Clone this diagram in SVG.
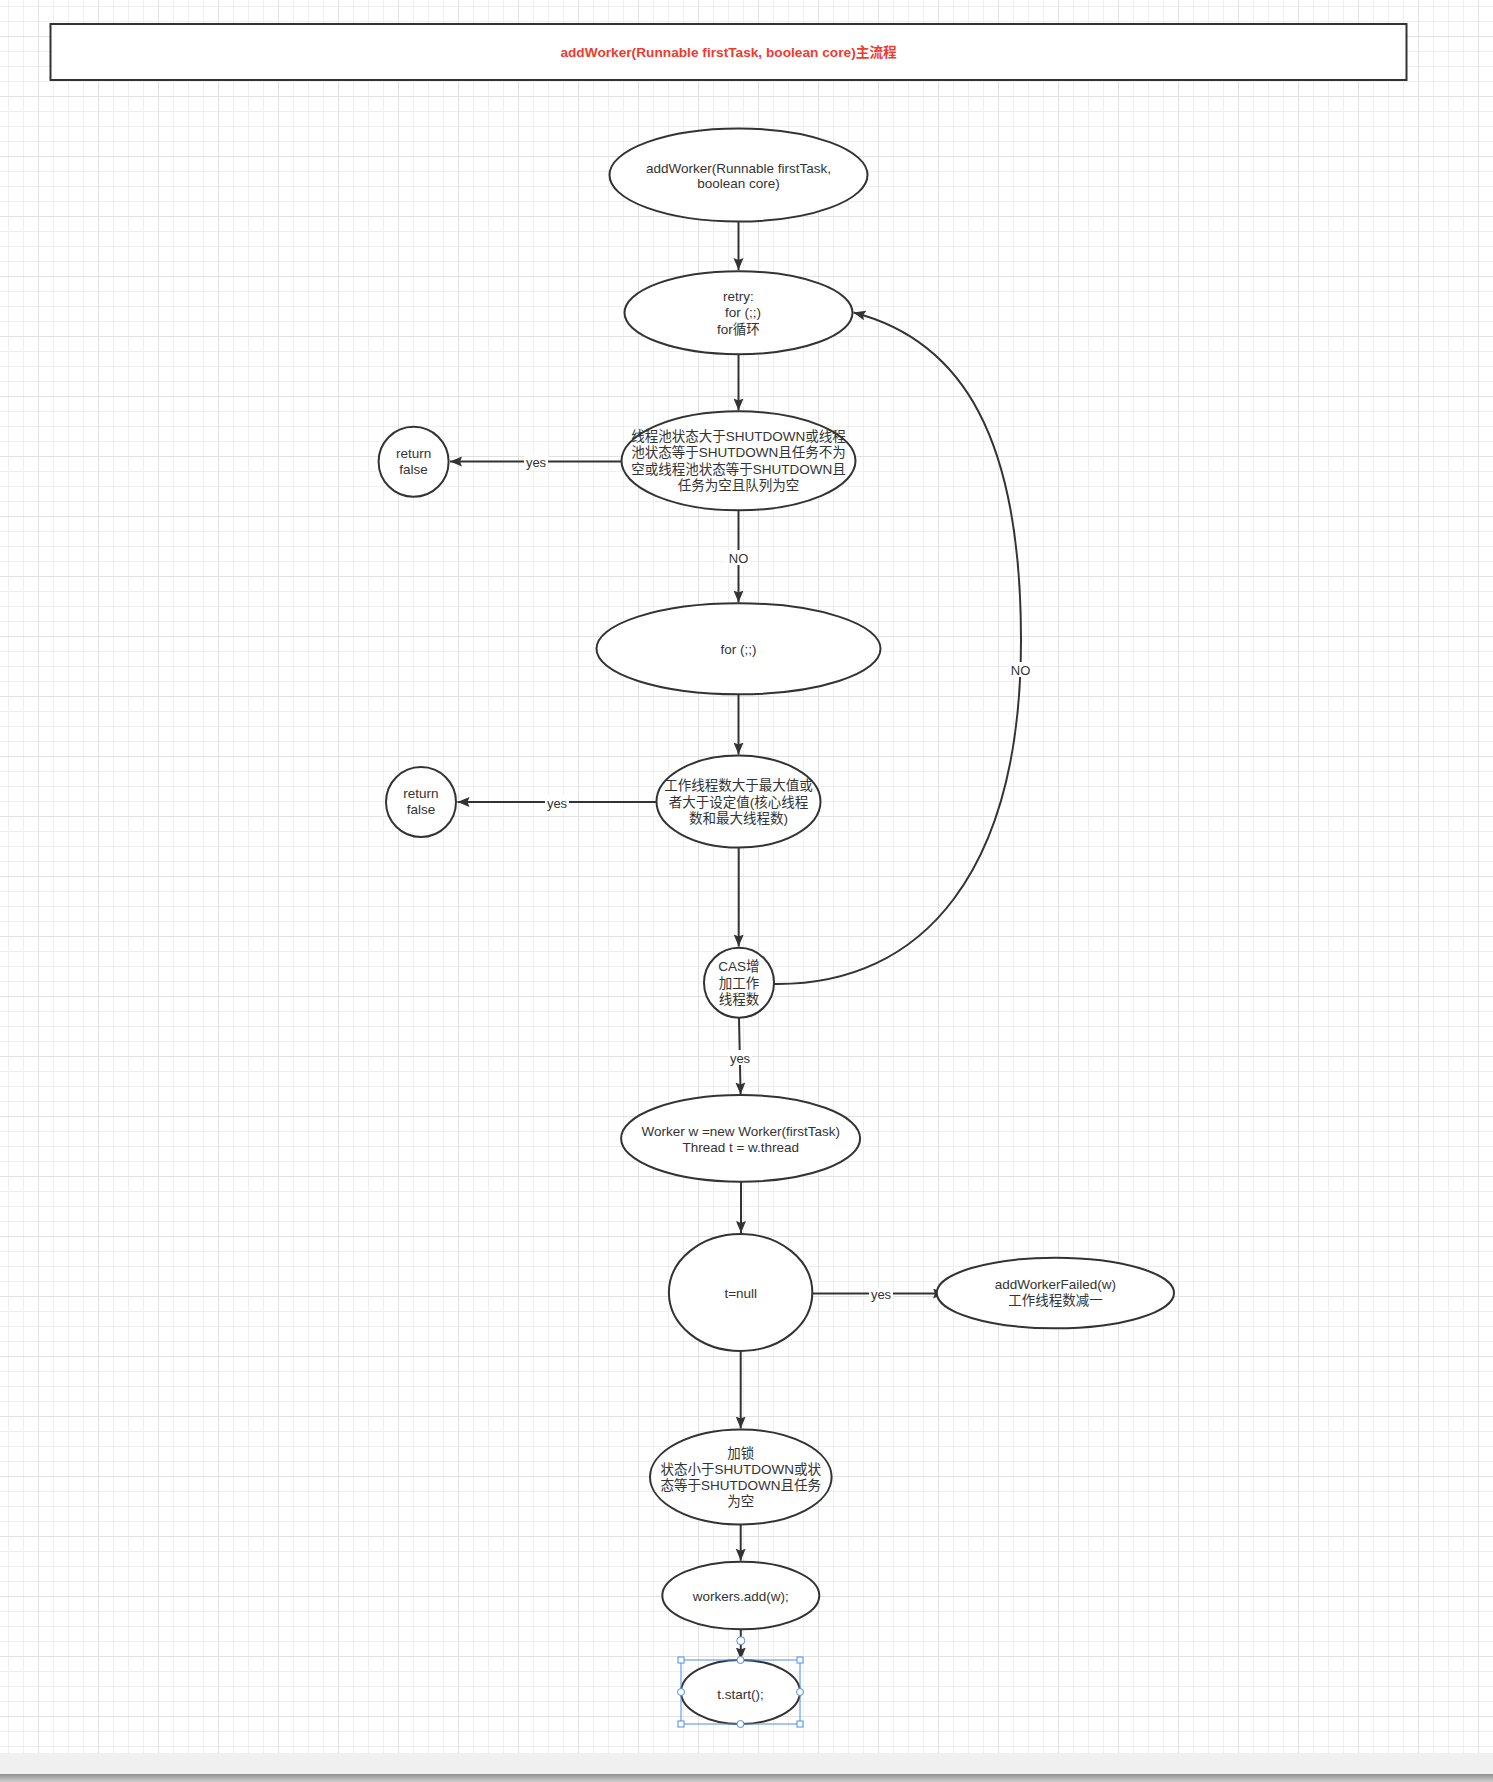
<svg xmlns="http://www.w3.org/2000/svg" width="1493" height="1782" viewBox="0 0 1493 1782">
<style>
.n{fill:#fff;stroke:#333;stroke-width:2}
.t{font-family:"Liberation Sans","Noto Sans CJK SC",sans-serif;font-size:13.5px;fill:#333;text-anchor:middle}
.lb{font-family:"Liberation Sans","Noto Sans CJK SC",sans-serif;font-size:13px;fill:#333;text-anchor:middle}
.e{fill:none;stroke:#333;stroke-width:2;marker-end:url(#arr)}
.bg{fill:#fff}
.sel{fill:#fff;stroke:#4a8cf0;stroke-width:1}
</style>
<defs>
<pattern id="grid" patternUnits="userSpaceOnUse" x="8" y="6" width="60" height="60">
<path d="M0.5 0V60M15.5 0V60M45.5 0V60M0 0.5H60M0 15.5H60M0 45.5H60" stroke="#efefef" stroke-width="1" fill="none"/>
<path d="M30.5 0V60M0 30.5H60" stroke="#e2e2e2" stroke-width="1" fill="none"/>
</pattern>
<linearGradient id="bar" x1="0" y1="0" x2="0" y2="1">
<stop offset="0" stop-color="#8f8f8f"/>
<stop offset="1" stop-color="#cfcfcf"/>
</linearGradient>
<marker id="arr" markerUnits="userSpaceOnUse" markerWidth="13" markerHeight="11" refX="12" refY="5" orient="auto">
<path d="M0,0 L12,5 L0,10 L2,5 z" fill="#333"/>
</marker>
</defs>
<rect x="0" y="0" width="1493" height="1753" fill="#fff"/>
<rect x="0" y="0" width="1493" height="1753" fill="url(#grid)"/>
<rect x="0" y="1753" width="1493" height="21" fill="#f0f0f0"/>
<rect x="0" y="1774" width="1493" height="8" fill="url(#bar)"/>

<g id="title">
<rect x="50.5" y="24" width="1356" height="56" fill="#fff" stroke="#333" stroke-width="2"/>
<text x="728.6" y="56.5" font-family="'Liberation Sans','Noto Sans CJK SC',sans-serif" font-size="13.7px" font-weight="bold" fill="#ee3b30" text-anchor="middle">addWorker(Runnable firstTask, boolean core)主流程</text>
</g>

<g id="connectors">
<path class="e" d="M738.5 222V270"/>
<path class="e" d="M738.5 354.5V410.5"/>
<path class="e" d="M621.5 461.5H450"/>
<path class="e" d="M738.5 510V602.5"/>
<path class="e" d="M738.5 694V754.5"/>
<path class="e" d="M656.7 802H457.5"/>
<path class="e" d="M738.7 847.5V946.5"/>
<path class="e" d="M774 984 C924 986 1021 870 1021 640 C1021 440 964 341 853.5 312.5"/>
<path class="e" d="M739 1018 L740.6 1094.5"/>
<path class="e" d="M741 1181.5 L741 1233"/>
<path class="e" d="M812.5 1293.5H945"/>
<path class="e" d="M740.7 1351V1428.5"/>
<path class="e" d="M740.7 1524.3V1560.7"/>
<path class="e" d="M740.8 1629.3V1659.5"/>
<rect class="bg" x="524" y="454" width="24" height="15"/>
<text class="lb" x="536" y="467">yes</text>
<rect class="bg" x="545" y="795" width="24" height="15"/>
<text class="lb" x="557" y="808">yes</text>
<rect class="bg" x="726" y="550" width="25" height="15"/>
<text class="lb" x="738.5" y="563">NO</text>
<rect class="bg" x="1008" y="662" width="25" height="15"/>
<text class="lb" x="1020.5" y="675">NO</text>
<rect class="bg" x="728" y="1050" width="24" height="15"/>
<text class="lb" x="740" y="1063">yes</text>
<rect class="bg" x="869" y="1287" width="24" height="15"/>
<text class="lb" x="881" y="1299">yes</text>
</g>

<g id="n1">
<ellipse class="n" cx="738.5" cy="175" rx="129" ry="46.5"/>
<text class="t" x="738.5" y="173">addWorker(Runnable firstTask,</text>
<text class="t" x="738.5" y="188">boolean core)</text>
</g>
<g id="n2">
<ellipse class="n" cx="738.5" cy="312.7" rx="114" ry="41.5"/>
<text class="t" x="738.5" y="301">retry:</text>
<text class="t" x="743" y="317">for (;;)</text>
<text class="t" x="738.5" y="334">for循环</text>
</g>
<g id="n3">
<ellipse class="n" cx="738.5" cy="460.8" rx="117" ry="49.5"/>
<text class="t" x="738.5" y="441">线程池状态大于SHUTDOWN或线程</text>
<text class="t" x="738.5" y="457.3">池状态等于SHUTDOWN且任务不为</text>
<text class="t" x="738.5" y="473.6">空或线程池状态等于SHUTDOWN且</text>
<text class="t" x="738.5" y="490">任务为空且队列为空</text>
</g>
<g id="r1">
<circle class="n" cx="413.6" cy="461.8" r="35"/>
<text class="t" x="413.6" y="457.7">return</text>
<text class="t" x="413.6" y="474">false</text>
</g>
<g id="n4">
<ellipse class="n" cx="738.5" cy="648.8" rx="142" ry="45.5"/>
<text class="t" x="738.5" y="653.5">for (;;)</text>
</g>
<g id="n5">
<ellipse class="n" cx="738.5" cy="801.6" rx="82" ry="46"/>
<text class="t" x="738.5" y="790">工作线程数大于最大值或</text>
<text class="t" x="738.5" y="806.5">者大于设定值(核心线程</text>
<text class="t" x="738.5" y="823">数和最大线程数)</text>
</g>
<g id="r2">
<circle class="n" cx="421" cy="802" r="35"/>
<text class="t" x="421" y="798">return</text>
<text class="t" x="421" y="814">false</text>
</g>
<g id="n6">
<circle class="n" cx="739" cy="982.8" r="35"/>
<text class="t" x="739" y="971.4">CAS增</text>
<text class="t" x="739" y="988">加工作</text>
<text class="t" x="739" y="1003.7">线程数</text>
</g>
<g id="n7">
<ellipse class="n" cx="740.6" cy="1138.4" rx="119.5" ry="43.3"/>
<text class="t" x="740.8" y="1136.4">Worker w =new Worker(firstTask)</text>
<text class="t" x="740.8" y="1152.4">Thread t = w.thread</text>
</g>
<g id="n8">
<ellipse class="n" cx="740.6" cy="1292.5" rx="71.7" ry="58.5"/>
<text class="t" x="740.8" y="1298">t=null</text>
</g>
<g id="n9">
<ellipse class="n" cx="1055.4" cy="1293" rx="118.6" ry="35.3"/>
<text class="t" x="1055.4" y="1288.7">addWorkerFailed(w)</text>
<text class="t" x="1055.4" y="1304.7">工作线程数减一</text>
</g>
<g id="n10">
<ellipse class="n" cx="740.8" cy="1477" rx="90.8" ry="47.5"/>
<text class="t" x="740.7" y="1458">加锁</text>
<text class="t" x="740.7" y="1474">状态小于SHUTDOWN或状</text>
<text class="t" x="740.7" y="1490">态等于SHUTDOWN且任务</text>
<text class="t" x="740.7" y="1506">为空</text>
</g>
<g id="n11">
<ellipse class="n" cx="740.8" cy="1595.5" rx="78.5" ry="33.8"/>
<text class="t" x="740.8" y="1601.4">workers.add(w);</text>
</g>
<g id="n12">
<ellipse class="n" cx="740.5" cy="1692" rx="59.5" ry="32"/>
<text class="t" x="740.5" y="1698.7">t.start();</text>
</g>
<g id="selection">
<rect x="681" y="1660" width="119" height="64" fill="none" stroke="#4a8cf0" stroke-width="1"/>
<rect class="sel" x="678" y="1657" width="6" height="6"/>
<rect class="sel" x="797" y="1657" width="6" height="6"/>
<rect class="sel" x="678" y="1721" width="6" height="6"/>
<rect class="sel" x="797" y="1721" width="6" height="6"/>
<circle class="sel" cx="740.5" cy="1660" r="3.5"/>
<circle class="sel" cx="740.5" cy="1724" r="3.5"/>
<circle class="sel" cx="681" cy="1692" r="3.5"/>
<circle class="sel" cx="800" cy="1692" r="3.5"/>
<circle class="sel" cx="740.8" cy="1640.7" r="4"/>
</g>
</svg>
